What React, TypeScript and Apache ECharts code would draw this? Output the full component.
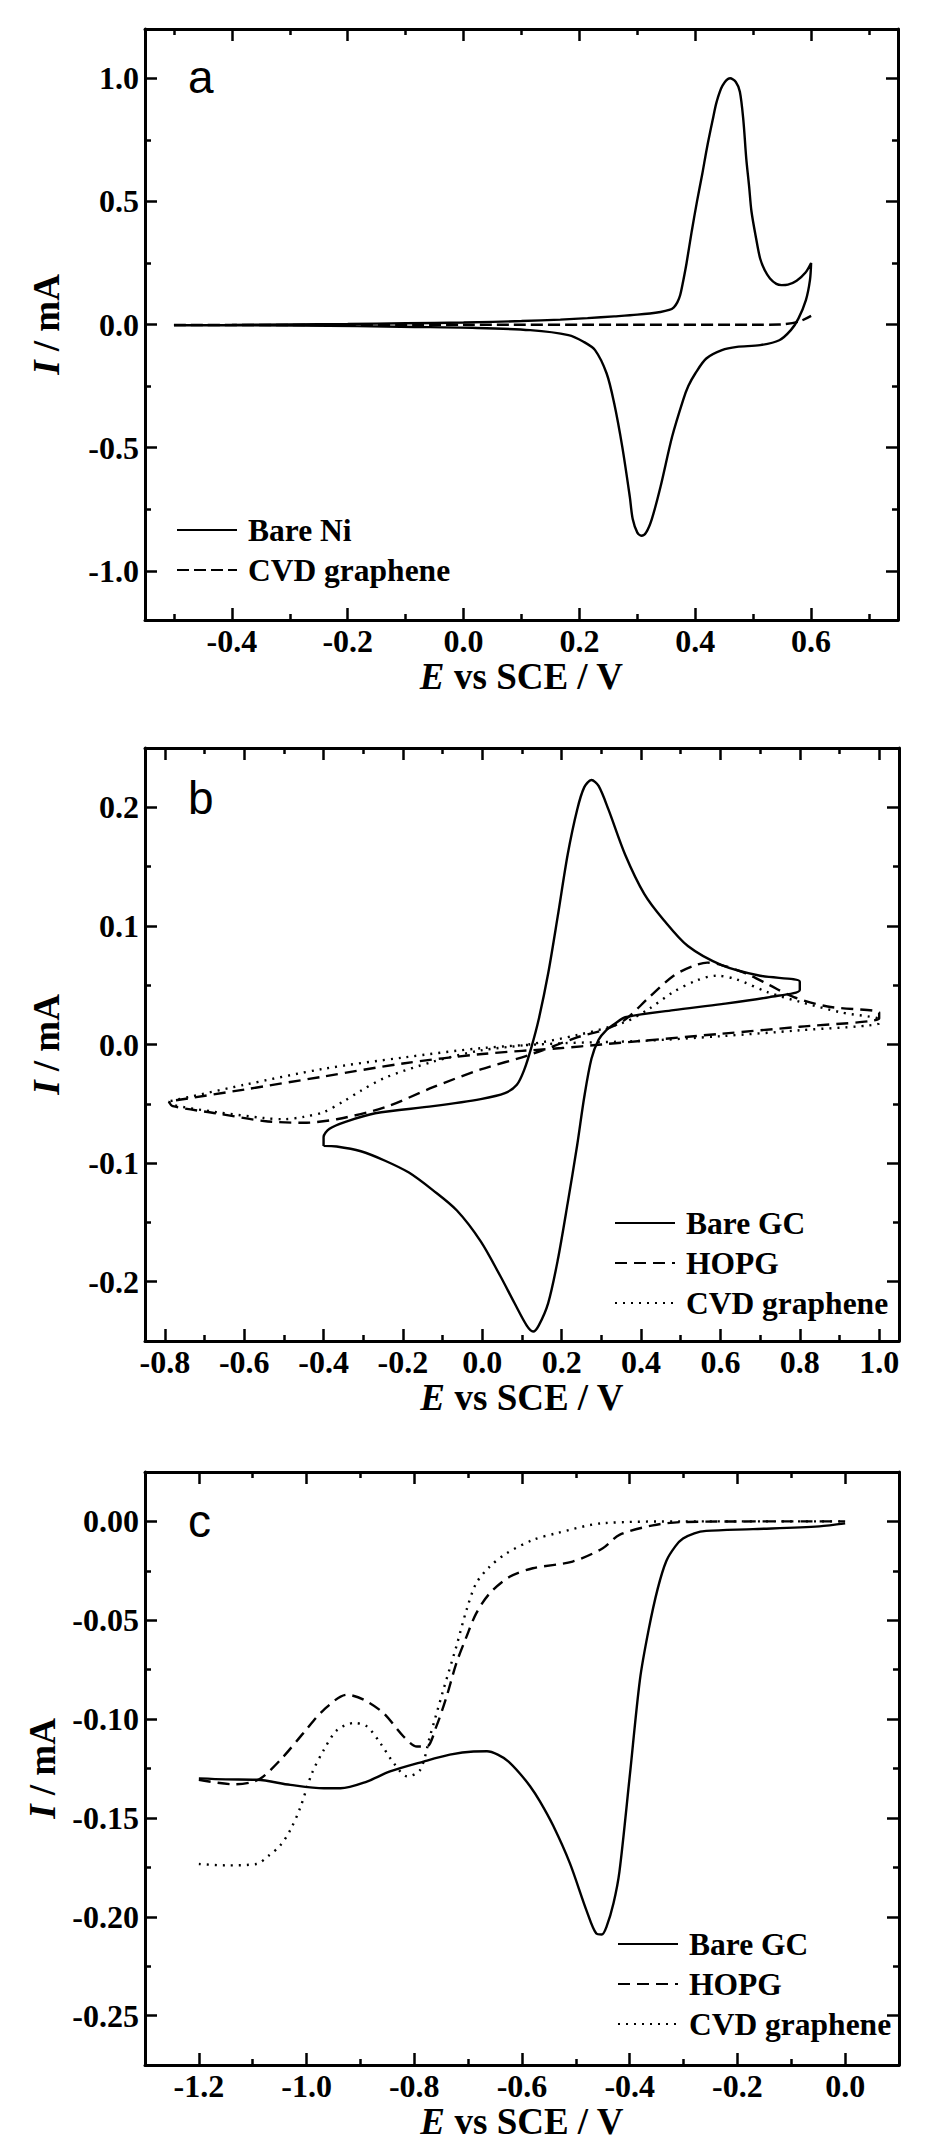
import React, { useEffect, useRef } from 'react';
import * as echarts from 'echarts';

// ---------- Panel a ----------
const aBareNi: number[][] = [
  [-0.5, -0.003], [-0.4, -0.002], [-0.3, 0.0], [-0.2, 0.002], [-0.1, 0.005], [0.0, 0.008], [0.1, 0.014],
  [0.167, 0.02], [0.214, 0.026], [0.26, 0.033], [0.3, 0.04], [0.34, 0.051], [0.355, 0.059], [0.363, 0.07],
  [0.369, 0.09], [0.374, 0.12], [0.379, 0.175], [0.385, 0.25], [0.394, 0.38], [0.403, 0.5], [0.412, 0.61],
  [0.42, 0.715], [0.43, 0.83], [0.437, 0.905], [0.447, 0.97], [0.46, 1.0], [0.47, 0.985], [0.477, 0.945],
  [0.483, 0.83], [0.488, 0.675], [0.493, 0.56], [0.497, 0.46], [0.505, 0.35], [0.512, 0.268], [0.52, 0.22],
  [0.529, 0.187], [0.54, 0.165], [0.549, 0.16], [0.56, 0.162], [0.575, 0.178], [0.59, 0.21], [0.6, 0.25],
  [0.598, 0.18], [0.591, 0.099], [0.578, 0.024], [0.565, -0.023], [0.545, -0.064], [0.512, -0.084],
  [0.472, -0.091], [0.446, -0.104], [0.419, -0.138], [0.4, -0.199], [0.388, -0.25], [0.379, -0.307],
  [0.36, -0.456], [0.34, -0.659], [0.325, -0.79], [0.315, -0.845], [0.307, -0.858], [0.3, -0.845],
  [0.292, -0.79], [0.287, -0.7], [0.274, -0.497], [0.26, -0.32], [0.247, -0.199], [0.227, -0.104],
  [0.207, -0.07], [0.181, -0.043], [0.115, -0.023], [0.015, -0.0135], [-0.084, -0.01], [-0.283, -0.004],
  [-0.5, -0.003],
];
const aCVD: number[][] = [
  [-0.5, -0.002], [-0.3, -0.002], [0.0, -0.001], [0.3, -0.001], [0.5, -0.001], [0.545, 0.0], [0.578, 0.011],
  [0.6, 0.035],
];

// ---------- Panel b ----------
const bBareGC: number[][] = [
  [-0.4, -0.0855], [-0.4, -0.078], [-0.385, -0.071], [-0.343, -0.065], [-0.27, -0.058], [-0.124, -0.052],
  [-0.004, -0.046], [0.057, -0.041], [0.087, -0.034], [0.106, -0.021], [0.124, -0.002], [0.142, 0.021],
  [0.166, 0.06], [0.19, 0.108], [0.215, 0.16], [0.239, 0.198], [0.257, 0.217], [0.275, 0.223], [0.293, 0.218],
  [0.318, 0.198], [0.36, 0.16], [0.408, 0.127], [0.457, 0.105], [0.518, 0.083], [0.603, 0.067], [0.7, 0.058],
  [0.8, 0.053],
  [0.8, 0.046], [0.724, 0.04], [0.603, 0.034], [0.482, 0.029], [0.36, 0.023], [0.336, 0.018], [0.312, 0.012],
  [0.293, 0.004], [0.275, -0.012], [0.257, -0.044], [0.239, -0.085], [0.215, -0.134], [0.19, -0.182],
  [0.166, -0.218], [0.142, -0.237], [0.128, -0.242], [0.112, -0.237], [0.081, -0.218], [0.045, -0.195],
  [-0.004, -0.166], [-0.064, -0.14], [-0.124, -0.123], [-0.185, -0.108], [-0.245, -0.098], [-0.306, -0.09],
  [-0.367, -0.086], [-0.4, -0.0855],
];
const bHOPG: number[][] = [
  [-0.79, -0.048], [-0.78, -0.052], [-0.67, -0.058], [-0.55, -0.0645], [-0.45, -0.066], [-0.367, -0.063],
  [-0.246, -0.053], [-0.124, -0.036], [-0.004, -0.021], [0.117, -0.009], [0.239, 0.006], [0.312, 0.013],
  [0.36, 0.021], [0.421, 0.04], [0.482, 0.058], [0.53, 0.066], [0.567, 0.069], [0.603, 0.067], [0.664, 0.06],
  [0.724, 0.05], [0.785, 0.04], [0.87, 0.032], [1.0, 0.027],
  [1.0, 0.022], [0.8, 0.015], [0.6, 0.009], [0.4, 0.003], [0.3, 0.0], [0.2, -0.003], [0.0, -0.008],
  [-0.2, -0.016], [-0.4, -0.027], [-0.6, -0.038], [-0.79, -0.048],
];
const bCVD: number[][] = [
  [-0.79, -0.048], [-0.78, -0.051], [-0.67, -0.057], [-0.55, -0.062], [-0.5, -0.063], [-0.45, -0.061],
  [-0.4, -0.057], [-0.35, -0.048], [-0.306, -0.039], [-0.245, -0.028], [-0.124, -0.0145], [-0.004, -0.005],
  [0.117, 0.0], [0.24, 0.008], [0.36, 0.019], [0.42, 0.03], [0.48, 0.044], [0.54, 0.054], [0.59, 0.058],
  [0.64, 0.055], [0.72, 0.044], [0.8, 0.036], [0.905, 0.027], [1.0, 0.021],
  [1.0, 0.018], [0.8, 0.012], [0.6, 0.007], [0.4, 0.003], [0.2, 0.001], [0.0, -0.003], [-0.2, -0.011],
  [-0.4, -0.0205], [-0.6, -0.034], [-0.79, -0.048],
];

// ---------- Panel c ----------
const cBareGC: number[][] = [
  [-1.2, -0.13], [-1.15, -0.1305], [-1.092, -0.1307], [-1.03, -0.1333], [-0.968, -0.135], [-0.937, -0.135],
  [-0.888, -0.1316], [-0.845, -0.1265], [-0.783, -0.1215], [-0.734, -0.118], [-0.69, -0.1164],
  [-0.665, -0.1163], [-0.645, -0.118], [-0.625, -0.1215], [-0.604, -0.1275], [-0.585, -0.134],
  [-0.567, -0.1415], [-0.542, -0.154], [-0.511, -0.173], [-0.48, -0.197], [-0.462, -0.2085],
  [-0.452, -0.209], [-0.443, -0.205], [-0.43, -0.193], [-0.419, -0.177], [-0.4, -0.129], [-0.381, -0.08],
  [-0.365, -0.055], [-0.348, -0.034], [-0.332, -0.02], [-0.315, -0.0125], [-0.301, -0.0087],
  [-0.28, -0.006], [-0.258, -0.0048], [-0.171, -0.0039], [-0.048, -0.0025], [0.0, -0.001],
];
const cHOPG: number[][] = [
  [-1.2, -0.1307], [-1.135, -0.133], [-1.1, -0.1318], [-1.08, -0.129], [-1.043, -0.119], [-1.006, -0.1071],
  [-0.968, -0.0953], [-0.925, -0.0877], [-0.894, -0.0902], [-0.857, -0.097], [-0.82, -0.1088],
  [-0.795, -0.1139], [-0.777, -0.1139], [-0.759, -0.1037], [-0.74, -0.0886], [-0.722, -0.0718],
  [-0.703, -0.0583], [-0.685, -0.0465], [-0.66, -0.0364], [-0.623, -0.028], [-0.58, -0.0237],
  [-0.506, -0.0203], [-0.45, -0.0136], [-0.419, -0.0068], [-0.357, -0.002], [-0.3, -0.0003], [-0.15, 0.0],
  [0.0, 0.0],
];
const cCVD: number[][] = [
  [-1.2, -0.1733], [-1.15, -0.174], [-1.093, -0.1733], [-1.07, -0.169], [-1.049, -0.164], [-1.03, -0.156],
  [-1.012, -0.145], [-0.99, -0.1274], [-0.968, -0.1156], [-0.943, -0.1055], [-0.912, -0.102],
  [-0.888, -0.1037], [-0.863, -0.1122], [-0.838, -0.1223], [-0.813, -0.129], [-0.789, -0.1257],
  [-0.771, -0.1088], [-0.746, -0.0852], [-0.722, -0.0633], [-0.703, -0.0448], [-0.685, -0.0313],
  [-0.66, -0.0229], [-0.629, -0.0162], [-0.58, -0.0094], [-0.536, -0.006], [-0.45, -0.0009], [-0.3, 0.0],
  [0.0, 0.0],
];

// ---------- Ticks ----------
const aXMajor = [-0.4, -0.2, 0, 0.2, 0.4, 0.6];
const aXMinor = [-0.5, -0.3, -0.1, 0.1, 0.3, 0.5, 0.7];
const aYMajor = [-1, -0.5, 0, 0.5, 1];
const aYMinor = [-0.75, -0.25, 0.25, 0.75];
const bXMajor = [-0.8, -0.6, -0.4, -0.2, 0, 0.2, 0.4, 0.6, 0.8, 1.0];
const bXMinor = [-0.7, -0.5, -0.3, -0.1, 0.1, 0.3, 0.5, 0.7, 0.9];
const bYMajor = [-0.2, -0.1, 0, 0.1, 0.2];
const bYMinor = [-0.15, -0.05, 0.05, 0.15];
const cXMajor = [-1.2, -1.0, -0.8, -0.6, -0.4, -0.2, 0];
const cXMinor = [-1.1, -0.9, -0.7, -0.5, -0.3, -0.1];
const cYMajor = [0, -0.05, -0.1, -0.15, -0.2, -0.25];
const cYMinor = [-0.025, -0.075, -0.125, -0.175, -0.225];

const panelLetters = ['a', 'b', 'c'];

const SERIF = '"Liberation Serif", "Times New Roman", Times, serif';
const SANS = '"Liberation Sans", Arial, Helvetica, sans-serif';

const nameStyle = {
  fontFamily: SERIF,
  fontWeight: 'bold',
  fontSize: 37,
  color: '#000',
  rich: {
    i: { fontFamily: SERIF, fontWeight: 'bold', fontStyle: 'italic', fontSize: 37, color: '#000' },
  },
};

function makeAxes(kind: 'x' | 'y', gi: number, min: number, max: number, majors: number[], minors: number[], digits: number) {
  const pos = kind === 'x' ? ['bottom', 'top'] : ['left', 'right'];
  const out: any[] = [];
  pos.forEach((p, pi) => {
    const main: any = {
      gridIndex: gi,
      type: 'value',
      min,
      max,
      position: p,
      axisLine: { show: true, onZero: false, lineStyle: { color: '#000', width: 3 } },
      axisTick: { show: true, inside: true, length: 12, customValues: majors, lineStyle: { color: '#000', width: 2.5 } },
      axisLabel: pi === 0
        ? {
            show: true,
            customValues: majors,
            formatter: (v: number) => v.toFixed(digits),
            margin: kind === 'x' ? 5 : 6,
            color: '#000',
            fontFamily: SERIF,
            fontWeight: 'bold',
            fontSize: 32,
          }
        : { show: false },
      splitLine: { show: false },
    };
    if (pi === 0) {
      main.name = kind === 'x' ? '{i|E} vs SCE / V' : '{i|I} / mA';
      main.nameLocation = 'middle';
      main.nameGap = kind === 'x' ? 22 : 80;
      main.nameTextStyle = nameStyle;
    }
    out.push(main);
    out.push({
      gridIndex: gi,
      type: 'value',
      min,
      max,
      position: p,
      axisLine: { show: false, onZero: false },
      axisTick: { show: true, inside: true, length: 6, customValues: minors, lineStyle: { color: '#000', width: 2.5 } },
      axisLabel: { show: false },
      splitLine: { show: false },
    });
  });
  return out;
}

const lineSeries = (name: string, gi: number, data: number[][], type: any) => ({
  type: 'line',
  name,
  xAxisIndex: gi * 4,
  yAxisIndex: gi * 4,
  data,
  symbol: 'none',
  showSymbol: false,
  smooth: 0.3,
  lineStyle: { color: '#000', width: 2.4, type, cap: 'butt' },
  itemStyle: { color: '#000' },
  emphasis: { disabled: true },
});

const legendBase = (left: number, top: number, data: string[]) => ({
  data,
  orient: 'vertical',
  left,
  top,
  padding: 0,
  itemWidth: 60,
  itemHeight: 14,
  itemGap: 8,
  selectedMode: false,
  formatter: (n: string) => n.split('|')[0],
  itemStyle: { opacity: 0, color: 'rgba(0,0,0,0)', borderWidth: 0 },
  textStyle: { fontFamily: SERIF, fontWeight: 'bold', fontSize: 31.5, color: '#000', lineHeight: 32, padding: [0, 0, 0, 6] },
});

export default function App() {
  const ref = useRef<HTMLDivElement>(null);
  useEffect(() => {
    if (!ref.current) return;
    const chart = echarts.init(ref.current, null, { renderer: 'svg' });
    const dashA = [12, 5];
    const dash = [12, 7];
    const dot = [2, 6];
    const option: any = {
      animation: false,
      backgroundColor: '#fff',
      grid: [
        { left: 145, top: 29, width: 753, height: 591, outerBoundsMode: 'none' },
        { left: 145, top: 748, width: 754, height: 593, outerBoundsMode: 'none' },
        { left: 145, top: 1472, width: 754, height: 593, outerBoundsMode: 'none' },
      ],
      xAxis: [
        ...makeAxes('x', 0, -0.55, 0.75, aXMajor, aXMinor, 1),
        ...makeAxes('x', 1, -0.85, 1.05, bXMajor, bXMinor, 1),
        ...makeAxes('x', 2, -1.3, 0.1, cXMajor, cXMinor, 1),
      ],
      yAxis: [
        ...makeAxes('y', 0, -1.2, 1.2, aYMajor, aYMinor, 1),
        ...makeAxes('y', 1, -0.25, 0.25, bYMajor, bYMinor, 1),
        ...makeAxes('y', 2, -0.275, 0.025, cYMajor, cYMinor, 2),
      ],
      title: panelLetters.map((t, i) => ({
        text: t,
        left: 188,
        top: [54, 775, 1498][i],
        padding: 0,
        textStyle: { fontFamily: SANS, fontWeight: 'normal', fontSize: 46, color: '#000' },
      })),
      legend: [
        legendBase(176, 514, ['Bare Ni|a', 'CVD graphene|a']),
        legendBase(614, 1207, ['Bare GC|b', 'HOPG|b', 'CVD graphene|b']),
        legendBase(617, 1928, ['Bare GC|c', 'HOPG|c', 'CVD graphene|c']),
      ],
      series: [
        lineSeries('Bare Ni|a', 0, aBareNi, 'solid'),
        lineSeries('CVD graphene|a', 0, aCVD, dashA),
        lineSeries('Bare GC|b', 1, bBareGC, 'solid'),
        lineSeries('HOPG|b', 1, bHOPG, dash),
        lineSeries('CVD graphene|b', 1, bCVD, dot),
        lineSeries('Bare GC|c', 2, cBareGC, 'solid'),
        lineSeries('HOPG|c', 2, cHOPG, dash),
        lineSeries('CVD graphene|c', 2, cCVD, dot),
      ],
    };
    chart.setOption(option);
    return () => chart.dispose();
  }, []);
  return <div ref={ref} style={{ position: 'absolute', left: 0, top: 0, width: 934, height: 2153, background: '#fff' }} />;
}
